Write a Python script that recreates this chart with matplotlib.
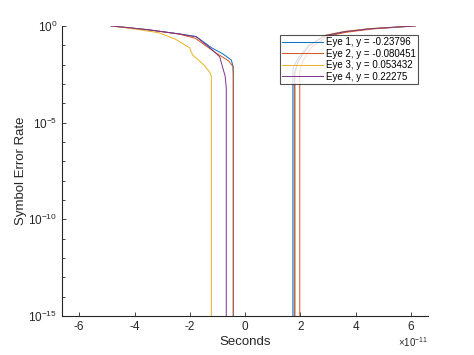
import numpy as np
import matplotlib
matplotlib.use("Agg")
import matplotlib.pyplot as plt
from matplotlib.ticker import LogLocator, NullFormatter

plt.rcParams['font.family'] = ['Liberation Sans', 'DejaVu Sans']
plt.rcParams['mathtext.fontset'] = 'custom'
plt.rcParams['mathtext.rm'] = 'Liberation Sans'
plt.rcParams['mathtext.it'] = 'Liberation Sans'
plt.rcParams['mathtext.default'] = 'regular'

# time axis in units of 1e-11 s, SER as log10 values
EYE_LABELS = ["Eye 1, y = -0.23796", "Eye 2, y = -0.080451",
              "Eye 3, y = 0.053432", "Eye 4, y = 0.22275"]
COLORS = ['#0072BD', '#D95319', '#EDB120', '#7E2F8E']

# left side of the bathtub
left_t = [
    [-4.85, -3.5, -2.4, -1.77, -1.2, -0.8, -0.5, -0.43, -0.43],
    [-4.85, -3.5, -2.4, -1.8, -1.04, -0.6, -0.44, -0.42, -0.42],
    [-4.85, -3.8, -3.1, -2.5, -2.0, -1.9, -1.5, -1.29, -1.22, -1.22],
    [-4.85, -3.5, -2.4, -1.77, -1.3, -0.92, -0.72, -0.68, -0.68],
]
left_log = [
    [0, -0.2, -0.41, -0.55, -1.14, -1.45, -1.76, -2.1, -16],
    [0, -0.2, -0.42, -0.64, -1.41, -1.8, -2.1, -2.5, -16],
    [0, -0.2, -0.36, -0.7, -1.14, -1.5, -2.0, -2.37, -2.6, -16],
    [0, -0.2, -0.41, -0.56, -1.1, -1.59, -2.6, -3.2, -16],
]

# right side of the bathtub
right_t = [
    [1.73, 1.73, 1.9, 2.3, 2.9, 3.6, 4.5, 6.15],
    [1.98, 1.98, 2.1, 2.4, 3.0, 3.7, 4.6, 6.15],
    [1.82, 1.82, 1.95, 2.3, 2.9, 3.6, 4.5, 6.15],
    [1.78, 1.78, 1.92, 2.3, 2.9, 3.6, 4.5, 6.15],
]
right_log = [
    [-16, -2.2, -1.7, -1.0, -0.5, -0.3, -0.15, 0],
    [-16, -2.3, -1.8, -1.1, -0.52, -0.32, -0.16, 0],
    [-16, -2.4, -1.8, -1.0, -0.48, -0.28, -0.14, 0],
    [-16, -2.5, -1.8, -1.05, -0.5, -0.3, -0.15, 0],
]

fig = plt.figure(figsize=(4.74, 3.55), dpi=100)
ax = fig.add_axes([0.131, 0.110, 0.772, 0.817])

for i in range(4):
    t = np.concatenate([left_t[i], [np.nan], right_t[i]]) * 1e-11
    s = 10.0 ** np.concatenate([left_log[i], [np.nan], right_log[i]])
    ax.plot(t, s, color=COLORS[i], lw=0.7, label=EYE_LABELS[i])

ax.set_yscale('log')
ax.set_ylim(1e-15, 1)
ax.set_xlim(-6.62e-11, 6.62e-11)
ax.set_xticks(np.arange(-6, 7, 2) * 1e-11)
ax.set_xticklabels([str(v) for v in range(-6, 7, 2)])
ax.set_yticks([1e-15, 1e-10, 1e-5, 1])
ax.set_yticklabels([r'$10^{-15}$', r'$10^{-10}$', r'$10^{-5}$', r'$10^{0}$'])
ax.yaxis.set_minor_locator(LogLocator(base=10, subs=[1.0], numticks=40))
ax.yaxis.set_minor_formatter(NullFormatter())

axcol = '#262626'
for side in ['top', 'right']:
    ax.spines[side].set_visible(False)
for side in ['left', 'bottom']:
    ax.spines[side].set_color(axcol)
    ax.spines[side].set_linewidth(0.8)
ax.tick_params(which='both', direction='in', colors=axcol, labelsize=8.5, width=0.6)
ax.tick_params(which='major', length=3)
ax.tick_params(which='minor', length=1.8)
ax.tick_params(axis='y', which='minor', left=True)

ax.set_xlabel('Seconds', fontsize=9.5, color=axcol, labelpad=2)
ax.set_ylabel('Symbol Error Rate', fontsize=9.5, color=axcol)
ax.yaxis.set_label_coords(-0.095, 0.5)
fig.text(0.903, 0.022, r'$\times10^{-11}$', fontsize=7, color=axcol, ha='right')

leg = ax.legend(loc='upper right', bbox_to_anchor=(0.973, 0.969), fontsize=7,
                frameon=True, fancybox=False, handlelength=4.2, handletextpad=0.3,
                labelspacing=0.15, borderpad=0.25, borderaxespad=0)
leg.get_frame().set_edgecolor(axcol)
leg.get_frame().set_linewidth(0.8)

fig.savefig('out.png', dpi=100)
